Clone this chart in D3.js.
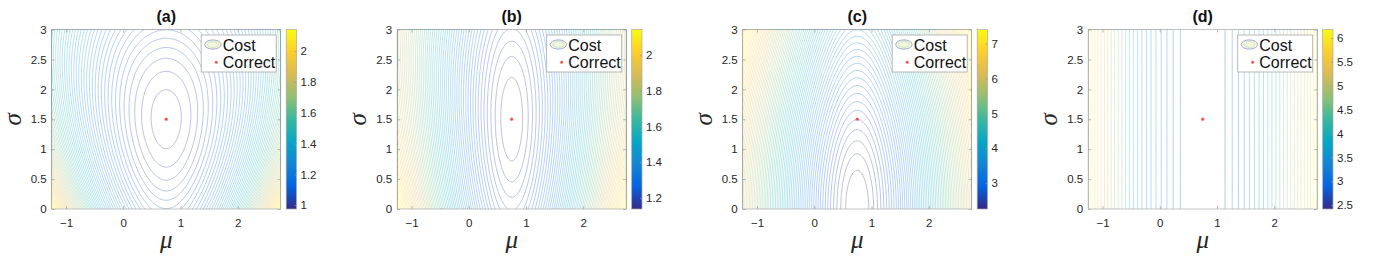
<!DOCTYPE html>
<html><head><meta charset="utf-8">
<script src="https://cdn.jsdelivr.net/npm/d3@7"></script>
<style>
body{margin:0;background:#fff}
svg{display:block}
text{font-family:"Liberation Sans",Arial,Helvetica,sans-serif}
</style>
</head><body>
<svg id="chart" width="1376" height="259"></svg>
<script>
// ---------------- data ----------------
const panelTitles = ["(a)", "(b)", "(c)", "(d)"];
const muDomain = [-1.25, 2.75];
const sigmaDomain = [0, 3];
const muTicks = [-1, 0, 1, 2];
const sigmaTicks = [0, 0.5, 1, 1.5, 2, 2.5, 3];
const correctPoint = [0.75, 1.5];
const legendLabels = ["Cost", "Correct"];
const colorbarTicks = [
  [1, 1.2, 1.4, 1.6, 1.8, 2],
  [1.2, 1.4, 1.6, 1.8, 2],
  [3, 4, 5, 6, 7],
  [2.5, 3, 3.5, 4, 4.5, 5, 5.5, 6]
];
const costParamsA = [0.975, 0.265, 0.41, 0.047];      // floor, mu weight, sigma damping, sigma weight
const costParamsB = [1.137, 0.427, 0.113, 0.83, 0.027]; // floor, mu weight, damping, mu softness, sigma weight
const costParamsC = [2.25, 2.86, 0.78, 0.89, 2.5];     // floor, mu weight, mu softness, sigma weight, sigma softness
const costParamsD = [2.42, 1.257, 1.58];               // floor, mu weight, exponent
const levelStep   = [0.0187, 0.0164, 0.0734, 0.157];
const levelOffset = [0.61, 0.8, 1.0, 1.81];
const parulaStops = ["#352a87","#0363e1","#1485d4","#06a7c6","#38b99e","#92bf73","#d9ba56","#fcce2e","#f9fb0e"];

// ---------------- cost functions ----------------
const costFns = [
  (m, s) => { const [c0, a0, k, b] = costParamsA; const d = m - correctPoint[0];
    return c0 + a0 / (1 + k * s) * d * d + b * (s - correctPoint[1]) ** 2; },
  (m, s) => { const [c0, a0, k, e, v] = costParamsB; const d = m - correctPoint[0];
    const h = 2 * e * (Math.sqrt(d * d + e * e) - e);
    return c0 + a0 / (1 + k * s) * h + v * (s - correctPoint[1]) ** 2; },
  (m, s) => { const [c0, A, e, B, s0] = costParamsC; const d = m - correctPoint[0];
    return c0 + A * (Math.sqrt(d * d + e * e) - e) + B * (Math.sqrt(s * s + s0 * s0) - s0); },
  (m, s) => { const [c0, K, p] = costParamsD; const d = Math.abs(m - correctPoint[0]);
    return c0 + K * Math.pow(d, p); }
];

// ---------------- layout ----------------
const svg = d3.select("#chart");
const plotLeft0 = 51.7, pitch = 345.5, plotW = 229, plotTop = 29.5, plotBottom = 209;
const nx = 231, ny = 181;
const parula = d3.scaleLinear().domain(d3.range(parulaStops.length).map(i => i / (parulaStops.length - 1)))
  .range(parulaStops).interpolate(d3.interpolateRgb);

const defs = svg.append("defs");
const grad = defs.append("linearGradient").attr("id", "parulaGrad")
  .attr("x1", 0).attr("x2", 0).attr("y1", 1).attr("y2", 0);
parulaStops.forEach((c, i) => grad.append("stop").attr("offset", i / (parulaStops.length - 1)).attr("stop-color", c));

function asterisk(g, x, y, r, color, w) {
  const p = d3.path();
  p.moveTo(x - r, y); p.lineTo(x + r, y);
  p.moveTo(x, y - r); p.lineTo(x, y + r);
  const q = r * 0.7;
  p.moveTo(x - q, y - q); p.lineTo(x + q, y + q);
  p.moveTo(x - q, y + q); p.lineTo(x + q, y - q);
  g.append("path").attr("d", p.toString()).attr("stroke", color).attr("stroke-width", w).attr("fill", "none");
}

panelTitles.forEach((title, pi) => {
  const L = plotLeft0 + pi * pitch, R = L + plotW;
  const xs = d3.scaleLinear().domain(muDomain).range([L, R]);
  const ys = d3.scaleLinear().domain(sigmaDomain).range([plotBottom, plotTop]);
  const g = svg.append("g");

  // grid of cost values
  const dmu = (muDomain[1] - muDomain[0]) / (nx - 1);
  const dsg = (sigmaDomain[1] - sigmaDomain[0]) / (ny - 1);
  const values = new Float64Array(nx * ny);
  for (let j = 0; j < ny; j++) for (let i = 0; i < nx; i++)
    values[j * nx + i] = costFns[pi](muDomain[0] + i * dmu, sigmaDomain[0] + j * dsg);
  const [vmin, vmax] = d3.extent(values);
  const thresholds = d3.range(vmin + levelOffset[pi] * levelStep[pi], vmax, levelStep[pi]);
  const contours = d3.contours().size([nx, ny]).thresholds(thresholds).smooth(true)(values);
  const proj = d3.geoTransform({ point: function (x, y) {
    this.stream.point(xs(muDomain[0] + (x - 0.5) * dmu), ys(sigmaDomain[0] + (y - 0.5) * dsg));
  }});
  const path = d3.geoPath(proj);
  const cnorm = d3.scaleLinear().domain([vmin, vmax]).range([0, 1]);

  defs.append("clipPath").attr("id", "clip" + pi).append("rect")
    .attr("x", L).attr("y", plotTop).attr("width", plotW).attr("height", plotBottom - plotTop);
  g.append("g").attr("clip-path", `url(#clip${pi})`)
    .selectAll("path").data(contours).join("path")
    .attr("d", path).attr("fill", "none")
    .attr("stroke", d => parula(cnorm(d.value)))
    .attr("stroke-width", 0.6).attr("stroke-opacity", 0.5);

  // box
  g.append("rect").attr("x", L).attr("y", plotTop).attr("width", plotW).attr("height", plotBottom - plotTop)
    .attr("fill", "none").attr("stroke", "#b5b5b5").attr("stroke-width", 0.8);

  // axes
  const styleAxis = (ax) => {
    ax.select(".domain").remove();
    ax.selectAll(".tick line").attr("stroke", "#9a9a9a").attr("stroke-width", 0.7);
    ax.selectAll(".tick text").attr("fill", "#262626").style("font-size", "11.5px")
      .style("font-family", '"Liberation Sans",Arial,sans-serif');
  };
  g.append("g").attr("transform", `translate(0,${plotBottom})`)
    .call(d3.axisBottom(xs).tickValues(muTicks).tickSize(-3).tickPadding(9.5).tickFormat(d3.format("d")))
    .call(styleAxis);
  g.append("g").attr("transform", `translate(0,${plotTop})`)
    .call(d3.axisTop(xs).tickValues(muTicks).tickSize(-3).tickFormat(""))
    .call(styleAxis);
  g.append("g").attr("transform", `translate(${L},0)`)
    .call(d3.axisLeft(ys).tickValues(sigmaTicks).tickSize(-3).tickPadding(5).tickFormat(d => String(d)))
    .call(styleAxis);
  g.append("g").attr("transform", `translate(${R},0)`)
    .call(d3.axisRight(ys).tickValues(sigmaTicks).tickSize(-3).tickFormat(""))
    .call(styleAxis);

  // correct point
  asterisk(g, xs(correctPoint[0]), ys(correctPoint[1]), 1.8, "#ee3a3a", 0.8);

  // title and axis labels
  g.append("text").attr("x", (L + R) / 2).attr("y", 21.6).attr("text-anchor", "middle")
    .style("font-size", "16px").style("font-weight", "bold").attr("fill", "#111").text(title);
  g.append("text").attr("x", (L + R) / 2).attr("y", 248).attr("text-anchor", "middle")
    .style("font-family", '"Liberation Serif","DejaVu Serif",serif').style("font-style", "italic")
    .style("font-size", "25px").attr("fill", "#262626").text("μ");
  g.append("text").attr("transform", `translate(${L - 31},${(plotTop + plotBottom) / 2}) rotate(-90)`)
    .attr("text-anchor", "middle")
    .style("font-family", '"Liberation Serif","DejaVu Serif",serif').style("font-style", "italic")
    .style("font-size", "25px").attr("fill", "#262626").text("σ");

  // legend
  const lw = 75, lh = 37, lx = R - 4.5 - lw, ly = plotTop + 5.5;
  const lg = g.append("g");
  lg.append("rect").attr("x", lx).attr("y", ly).attr("width", lw).attr("height", lh)
    .attr("fill", "#fff").attr("stroke", "#a8a8a8").attr("stroke-width", 0.8);
  lg.append("ellipse").attr("cx", lx + 11.7).attr("cy", ly + 9.5).attr("rx", 8.2).attr("ry", 4.6)
    .attr("fill", "#f6f8dc").attr("stroke", "#8c8fd0").attr("stroke-width", 0.8);
  lg.append("ellipse").attr("cx", lx + 11.7).attr("cy", ly + 9.5).attr("rx", 5.5).attr("ry", 2.8)
    .attr("fill", "none").attr("stroke", "#b7dcc0").attr("stroke-width", 0.7);
  lg.append("text").attr("x", lx + 21.6).attr("y", ly + 15.7).style("font-size", "16px").attr("fill", "#111").text(legendLabels[0]);
  asterisk(lg, lx + 15, ly + 27.3, 1.6, "#ee3a3a", 0.8);
  lg.append("text").attr("x", lx + 21.6).attr("y", ly + 33.3).style("font-size", "16px").attr("fill", "#111").text(legendLabels[1]);

  // colorbar
  const cx = R + 5.5, cw = 10.3;
  const cs = d3.scaleLinear().domain([vmin, vmax]).range([plotBottom, plotTop]);
  g.append("rect").attr("x", cx).attr("y", plotTop).attr("width", cw).attr("height", plotBottom - plotTop)
    .attr("fill", "url(#parulaGrad)").attr("stroke", "#a8a8a8").attr("stroke-width", 0.7);
  g.append("g").attr("transform", `translate(${cx + cw},0)`)
    .call(d3.axisRight(cs).tickValues(colorbarTicks[pi]).tickSize(-2).tickPadding(4).tickFormat(d => String(d)))
    .call(styleAxis);
});
</script>
</body></html>
